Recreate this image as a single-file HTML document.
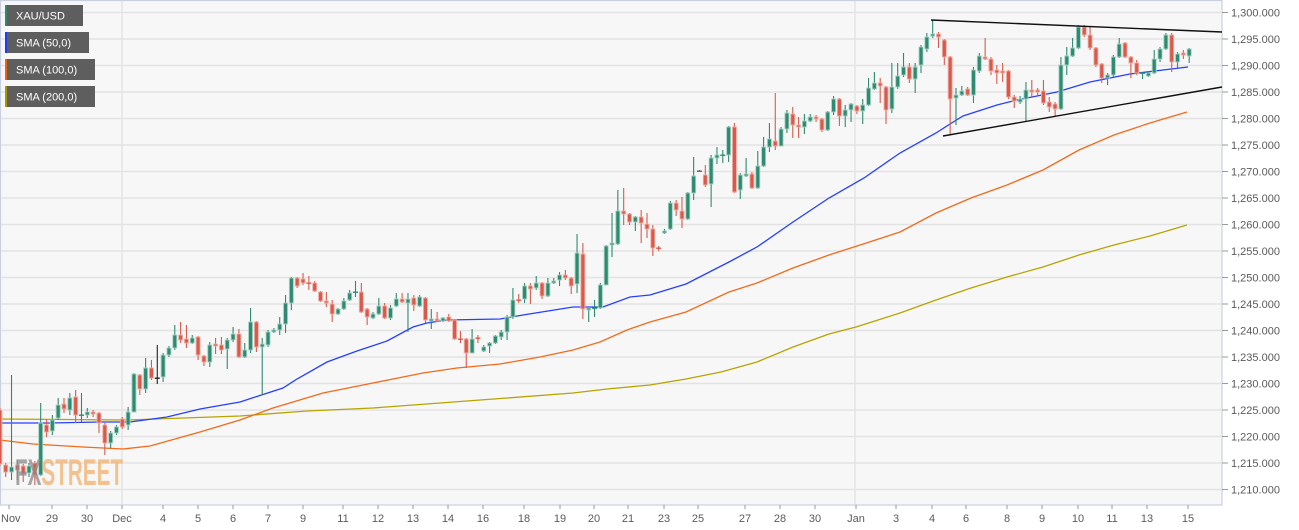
<!DOCTYPE html>
<html><head><meta charset="utf-8">
<style>
html,body{margin:0;padding:0;background:#fff;}
body{width:1299px;height:530px;overflow:hidden;font-family:"Liberation Sans",Arial,sans-serif;}
svg{display:block;}
</style></head>
<body>
<svg id="c" width="1299" height="530" viewBox="0 0 1299 530" xmlns="http://www.w3.org/2000/svg">
<rect x="0.5" y="0.5" width="1221.5" height="504.5" fill="#f7f7f7" stroke="#c9d0e2" stroke-width="1.2"/>
<g id="grid"></g>
<g id="axes" font-family="Liberation Sans, Arial, sans-serif" font-size="11" fill="#5a5a5a"></g>
<polyline fill="none" stroke="#b7a400" stroke-width="1.3" points="0,419 127,420 240,416 307,411 373,408 440,403 507,398 573,393 607,389 650,385 686,379 721,372 757,362 793,347 829,334 856,327 900,313 936,300 971,288 1007,277 1043,267 1079,255 1114,245 1150,236 1187,225"/>
<polyline fill="none" stroke="#f26a1b" stroke-width="1.3" points="0,440 33,444 83,447 123,449 150,446 200,432 240,420 273,408 323,393 373,383 423,373 457,368 500,364 540,357 573,350 600,342 627,330 650,322 686,312 729,292 757,283 793,268 829,255 857,246 900,232 936,213 971,198 1007,185 1043,170 1079,150 1114,135 1150,123 1187,112"/>
<polyline fill="none" stroke="#2540ff" stroke-width="1.3" points="0,423 50,423 100,422 130,422 167,417 200,409 240,402 283,388 297,379 327,362 357,351 387,341 413,327 427,323 447,320 500,319 523,315 573,307 603,307 630,297 650,295 686,284 729,262 757,247 793,222 829,198 864,178 900,153 936,133 950,124 963,116 997,105 1017,100 1057,92 1090,82 1130,74 1163,70 1188,67"/>
<g id="candles"></g>
<line x1="931" y1="20" x2="1222" y2="32" stroke="#111" stroke-width="1.4"/>
<line x1="943" y1="136" x2="1222" y2="87" stroke="#111" stroke-width="1.4"/>
<text x="15" y="485" font-family="Liberation Sans, Arial, sans-serif" font-size="37" font-weight="bold" textLength="108" lengthAdjust="spacingAndGlyphs" opacity="0.75"><tspan fill="#8a8a8a">FX</tspan><tspan fill="#f0b16e">STREET</tspan></text>
<g font-family="Liberation Sans, Arial, sans-serif" font-size="11" fill="#ffffff">
<rect x="5" y="5" width="78" height="21" fill="#5e5e5e"/><rect x="5" y="5" width="2" height="21" fill="#2e8b72"/>
<text x="16" y="19.5">XAU/USD</text>
<rect x="5" y="32" width="84" height="21" fill="#5e5e5e"/><rect x="5" y="32" width="2" height="21" fill="#1a3cff"/>
<text x="16" y="46.5">SMA (50,0)</text>
<rect x="5" y="59" width="90" height="21" fill="#5e5e5e"/><rect x="5" y="59" width="2" height="21" fill="#f0620f"/>
<text x="16" y="73.5">SMA (100,0)</text>
<rect x="5" y="86" width="90" height="21" fill="#5e5e5e"/><rect x="5" y="86" width="2" height="21" fill="#a89800"/>
<text x="16" y="100.5">SMA (200,0)</text>
</g>
</svg>
<script>
(function(){
var NS="http://www.w3.org/2000/svg";
function el(t,a,p){var e=document.createElementNS(NS,t);for(var k in a)e.setAttribute(k,a[k]);p.appendChild(e);return e;}
var grid=document.getElementById('grid'),axes=document.getElementById('axes'),cg=document.getElementById('candles');
// horizontal grid + y labels
for(var p=1210;p<=1300;p+=5){
  var y=12.5+(1300-p)*5.3;
  el('line',{x1:1,y1:y,x2:1221,y2:y,stroke:'#e3e3e3','stroke-width':1.4},grid);
  el('line',{x1:1222,y1:y,x2:1228,y2:y,stroke:'#9a9a9a','stroke-width':1},axes);
  var t=el('text',{x:1231,y:y+4},axes);
  t.textContent=(p===1300?'1,300':'1,'+String(p).slice(1))+'.000';
}
// vertical grid
[122,855].forEach(function(x){el('line',{x1:x,y1:1,x2:x,y2:504,stroke:'#e3e3e3','stroke-width':1.4},grid);});
// x labels
var xl=[['Nov',9],['29',52],['30',87],['Dec',122],['4',163],['5',198],['6',233],['7',268],['9',303],['11',343],['12',378],['13',413],['14',448],['16',483],['18',524],['19',560],['20',594],['21',628],['23',664],['25',698],['27',745],['28',780],['30',815],['Jan',856],['3',896],['4',932],['6',966],['8',1007],['9',1042],['10',1078],['11',1112],['13',1147],['15',1188]];
xl.forEach(function(a){
  el('line',{x1:a[1],y1:505,x2:a[1],y2:509,stroke:'#9a9a9a','stroke-width':1},axes);
  var t=el('text',{x:a[0]==='Nov'?1:a[1],y:522,'text-anchor':a[0]==='Nov'?'start':'middle'},axes);
  t.textContent=a[0];
});
// candles: [color, bodyTop, bodyBot, wickTop, wickBot], index from -1
var D=[
['r',410,464,408,466],
['r',465,472,463,477],['g',467,472,375,480],['r',465,470,460,480],['r',466,474,464,482],['g',466,473,463,477],
['r',463,475,461,485],['g',423,475,403,476],['r',425,432,420,437],['g',420,431,415,435],['g',405,418,398,420],
['r',404,409,398,413],['g',398,410,393,415],['r',397,415,390,423],['g',415,416,393,422],['g',412,415,408,418],
['r',412,414,410,417],['r',413,423,412,433],['r',425,443,423,455],['g',433,443,431,448],['g',427,433,425,435],
['r',419,427,417,429],['g',412,425,407,430],['g',374,412,373,412],['r',375,389,374,395],['g',368,389,358,393],
['r',368,378,360,380],['k',378,379,345,384],['g',355,377,353,382],['g',348,355,346,357],['g',335,348,325,350],
['r',335,340,322,343],['r',339,343,325,348],['g',338,343,335,344],['r',337,355,336,360],['r',356,362,355,366],
['g',345,362,342,367],['r',344,346,338,354],['r',345,350,337,354],['g',340,349,338,369],['g',334,340,327,342],
['r',334,357,329,358],['g',350,357,343,358],['g',322,350,308,353],['r',322,347,321,352],['g',344,347,338,395],
['g',332,345,330,347],['g',330,332,328,333],['g',324,330,317,335],['g',303,324,295,333],['g',278,303,277,310],
['r',278,286,277,288],['r',279,283,273,285],['r',283,284,276,290],['r',283,291,281,292],['r',292,301,291,302],
['r',301,303,292,307],['r',304,314,300,322],['g',309,314,308,315],['g',301,309,298,310],['g',293,300,290,301],
['g',292,293,281,297],['r',292,312,283,313],['r',309,317,308,325],['g',314,318,312,319],['g',306,314,298,315],
['r',306,318,303,319],['g',308,318,305,320],['g',299,306,293,307],['r',299,302,293,303],['g',299,303,293,332],
['r',298,305,295,311],['g',297,306,295,307],['r',298,320,297,323],['g',319,321,309,329],['r',319,321,312,322],
['g',318,321,317,322],['r',317,321,314,322],['r',320,339,319,340],['r',339,340,331,343],['r',339,353,338,368],
['g',339,353,329,353],['r',338,339,335,343],['g',347,351,345,352],['g',343,346,342,353],['g',336,343,335,344],
['g',332,337,330,340],['g',317,332,315,340],['g',300,317,288,319],['r',300,301,294,303],['g',286,299,283,303],
['r',286,289,283,304],['g',283,288,276,290],['r',283,296,282,299],['g',283,296,278,297],['g',281,283,278,284],
['g',275,280,272,286],['r',275,278,270,280],['r',278,286,277,294],['g',253,284,234,293],['r',254,309,243,319],
['g',308,310,307,322],['g',308,309,300,317],['g',285,308,283,309],['g',246,285,245,285],['g',243,245,213,257],
['g',211,244,190,245],['r',211,214,188,225],['r',214,222,213,225],['g',217,222,216,231],['r',217,223,210,243],
['r',224,229,213,238],['r',229,248,225,256],['r',248,249,246,251],['g',231,233,229,234],['g',203,229,201,230],
['r',203,210,200,216],['r',211,219,197,228],['g',193,219,192,220],['g',176,193,157,200],['n',171,172,170,172],
['r',175,185,165,187],['g',158,184,155,207],['g',155,158,147,164],['g',155,156,150,163],['g',127,155,126,162],
['r',127,192,123,193],['g',175,190,173,199],['g',174,176,158,177],['r',174,188,172,189],['g',166,188,151,189],
['g',147,166,137,167],['g',139,147,123,152],['r',141,146,93,150],['g',129,146,127,146],['g',113,129,110,133],
['r',114,125,107,138],['r',125,127,117,138],['g',121,127,114,134],['g',117,121,114,122],['r',117,119,115,122],
['r',119,130,118,132],['g',112,130,111,131],['g',99,112,96,115],['r',99,116,98,126],['g',110,116,105,127],
['g',104,110,103,122],['r',106,111,105,114],['g',105,111,99,124],['g',88,105,78,106],['g',83,89,72,90],
['r',83,86,78,103],['r',87,110,86,124],['g',87,109,63,113],['g',76,87,63,89],['g',67,75,53,77],
['r',67,79,63,83],['g',67,79,63,93],['g',47,65,45,73],['g',37,49,33,52],['g',34,36,20,38],
['r',34,37,32,48],['r',40,57,39,65],['r',57,99,56,135],['g',95,98,88,125],['g',91,95,86,96],
['r',89,95,87,96],['g',70,95,67,103],['g',56,71,53,73],['r',57,59,38,60],['r',59,71,57,75],
['r',70,73,65,84],['r',71,73,63,82],['r',71,97,70,99],['r',97,101,95,108],['g',99,102,96,104],
['g',90,99,82,121],['r',90,92,80,97],['r',90,92,88,95],['r',91,103,80,105],['r',102,107,97,112],
['r',104,109,102,116],['g',65,109,57,110],['g',56,65,47,75],['g',48,56,38,57],['g',27,48,25,49],
['r',27,35,25,37],['r',35,48,27,50],['r',48,65,47,67],['r',64,78,63,83],['g',75,78,73,85],
['g',57,75,55,77],['g',44,57,38,58],['r',43,57,42,58],['r',57,63,56,78],['r',63,73,60,75],
['g',73,74,72,79],['g',73,76,71,77],['g',59,73,50,74],['g',49,59,47,62],['g',35,49,33,50],
['r',35,62,33,72],['g',54,62,52,69],['r',53,55,50,59],['g',49,56,48,63]
];
var COL={g:['#2e8a71','#a6d2c4'],r:['#d95a4b','#efb0a8'],k:['#222','#888'],n:['#666','#aaa']};
for(var j=0;j<D.length;j++){
  var i=j-1, x=5.7+i*5.83, d=D[j], c=COL[d[0]];
  el('line',{x1:x,y1:d[3],x2:x,y2:d[4],stroke:c[0],'stroke-width':1.1},cg);
  var h=Math.max(d[2]-d[1],1);
  if(d[0]==='k'||d[0]==='n'||h<=1.5){
    el('rect',{x:x-2.5,y:d[1]-0.5,width:5,height:Math.max(h,1.4),fill:c[0]},cg);
  } else {
    el('rect',{x:x-2,y:d[1],width:4,height:h,fill:c[0],stroke:c[1],'stroke-width':0.9},cg);
  }
}
})();
</script>
</body></html>
